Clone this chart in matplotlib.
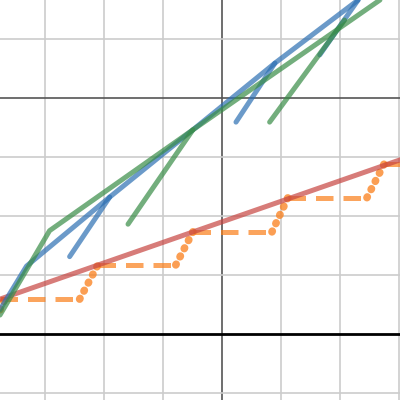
import matplotlib
matplotlib.use("Agg")
import matplotlib.pyplot as plt

blue_x = [-3.76, -3.31, -1.90, -0.49, 0.90, 2.31]
blue_y = [0.41, 1.15, 2.32, 3.46, 4.59, 5.66]
blue_spikes = [((-2.58, -1.90), (1.31, 2.32)), ((0.24, 0.90), (3.59, 4.59)), ((1.66, 2.31), (4.73, 5.66))]
green_x = [-3.76, -2.92, -0.49, 2.68]
green_y = [0.32, 1.75, 3.46, 5.66]
green_spikes = [((-1.59, -0.49), (1.86, 3.46)), ((0.81, 2.08), (3.59, 5.32))]
red_x = [-3.76, 3.02]
red_y = [0.59, 2.95]
orange_flats = [(-3.76, -2.41, 0.59), (-2.10, -0.78, 1.17), (-0.49, 0.85, 1.73), (1.12, 2.46, 2.31), (2.75, 3.02, 2.88)]
orange_risers = [((-3.76, -3.68), (0.41, 0.59)), ((-2.41, -2.10), (0.59, 1.17)), ((-0.78, -0.49), (1.17, 1.73)),
                 ((0.85, 1.12), (1.73, 2.31)), ((2.46, 2.75), (2.31, 2.88))]

fig = plt.figure(figsize=(4, 4), dpi=100)
ax = fig.add_axes([0, 0, 1, 1])
ax.set_xlim(-3.76, 3.02)
ax.set_ylim(-1.12, 5.66)
for gx in range(-3, 4):
    ax.axvline(gx, color='#555555' if gx == 0 else '#cccccc', lw=1.2, zorder=0)
for gy in range(-1, 6):
    c = '#000000' if gy == 0 else ('#555555' if gy == 4 else '#cccccc')
    ax.axhline(gy, color=c, lw=2 if gy == 0 else 1.2, zorder=0)

lw = 3.6
for x0, x1, yv in orange_flats:
    ax.plot([x0, x1], [yv, yv], color='#fa7e19', lw=lw, alpha=0.7, ls=(0, (3.5, 2)))
for xs, ys in orange_risers:
    ax.plot(xs, ys, color='#fa7e19', lw=5.5, alpha=0.75, ls=(0, (0.1, 1.1)), dash_capstyle='round')
ax.plot(red_x, red_y, color='#c74440', lw=lw, alpha=0.7)
ax.plot(blue_x, blue_y, color='#2d70b3', lw=lw, alpha=0.7, solid_capstyle='round')
for xs, ys in blue_spikes:
    ax.plot(xs, ys, color='#2d70b3', lw=lw, alpha=0.7, solid_capstyle='round')
ax.plot(green_x, green_y, color='#388c46', lw=lw, alpha=0.7, solid_capstyle='round')
for xs, ys in green_spikes:
    ax.plot(xs, ys, color='#388c46', lw=lw, alpha=0.7, solid_capstyle='round')
ax.axis('off')
fig.savefig('out.png', dpi=100)
